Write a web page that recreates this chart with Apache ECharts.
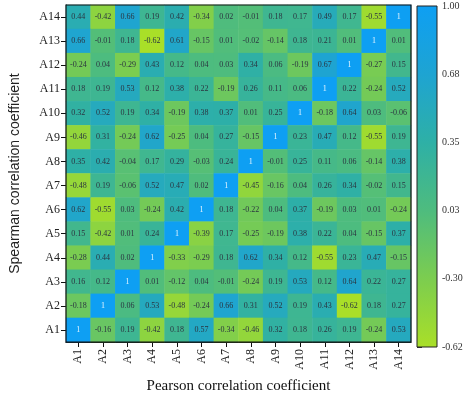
<!DOCTYPE html>
<html>
<head>
<meta charset="utf-8">
<script src="https://cdn.jsdelivr.net/npm/echarts@6/dist/echarts.min.js"></script>
<style>
  html, body { margin: 0; padding: 0; background: #fff; }
  #chart { width: 474px; height: 399px; }
</style>
</head>
<body>
<div id="chart"></div>
<script>
const labels = ["A1", "A2", "A3", "A4", "A5", "A6", "A7", "A8", "A9", "A10", "A11", "A12", "A13", "A14"];

// rows listed top to bottom (A14 ... A1), columns A1 ... A14
const rowsTopDown = [
  [0.44, -0.42, 0.66, 0.19, 0.42, -0.34, 0.02, -0.01, 0.18, 0.17, 0.49, 0.17, -0.55, 1],
  [0.66, -0.01, 0.18, -0.62, 0.61, -0.15, 0.01, -0.02, -0.14, 0.18, 0.21, 0.01, 1, 0.01],
  [-0.24, 0.04, -0.29, 0.43, 0.12, 0.04, 0.03, 0.34, 0.06, -0.19, 0.67, 1, -0.27, 0.15],
  [0.18, 0.19, 0.53, 0.12, 0.38, 0.22, -0.19, 0.26, 0.11, 0.06, 1, 0.22, -0.24, 0.52],
  [0.32, 0.52, 0.19, 0.34, -0.19, 0.38, 0.37, 0.01, 0.25, 1, -0.18, 0.64, 0.03, -0.06],
  [-0.46, 0.31, -0.24, 0.62, -0.25, 0.04, 0.27, -0.15, 1, 0.23, 0.47, 0.12, -0.55, 0.19],
  [0.35, 0.42, -0.04, 0.17, 0.29, -0.03, 0.24, 1, -0.01, 0.25, 0.11, 0.06, -0.14, 0.38],
  [-0.48, 0.19, -0.06, 0.52, 0.47, 0.02, 1, -0.45, -0.16, 0.04, 0.26, 0.34, -0.02, 0.15],
  [0.62, -0.55, 0.03, -0.24, 0.42, 1, 0.18, -0.22, 0.04, 0.37, -0.19, 0.03, 0.01, -0.24],
  [0.15, -0.42, 0.01, 0.24, 1, -0.39, 0.17, -0.25, -0.19, 0.38, 0.22, 0.04, -0.15, 0.37],
  [-0.28, 0.44, 0.02, 1, -0.33, -0.29, 0.18, 0.62, 0.34, 0.12, -0.55, 0.23, 0.47, -0.15],
  [0.16, 0.12, 1, 0.01, -0.12, 0.04, -0.01, -0.24, 0.19, 0.53, 0.12, 0.64, 0.22, 0.27],
  [-0.18, 1, 0.06, 0.53, -0.48, -0.24, 0.66, 0.31, 0.52, 0.19, 0.43, -0.62, 0.18, 0.27],
  [1, -0.16, 0.19, -0.42, 0.18, 0.57, -0.34, -0.46, 0.32, 0.18, 0.26, 0.19, -0.24, 0.53],
];

const colorMin = -0.62;
const colorMax = 1.0;
const colorTicks = [-0.62, -0.296, 0.028, 0.352, 0.676, 1.0];
const palette = ["#a9df28", "#7ccd4f", "#4ebc7e", "#2eb0a6", "#1ea4d2", "#0e9ff3"];

const serif = "'Liberation Serif', 'DejaVu Serif', serif";
const sans = "'Liberation Sans', Arial, sans-serif";

const cells = [];
rowsTopDown.forEach((row, r) => {
  const y = labels.length - 1 - r;
  row.forEach((v, x) => {
    const item = { value: [x, y, v] };
    if (v === 1) item.label = { color: "#e8f6ff" };
    cells.push(item);
  });
});

// colour bar gradient, top = max
const barStops = palette.map((c, i) => ({ offset: 1 - i / (palette.length - 1), color: c }));

const chart = echarts.init(document.getElementById("chart"), null, { renderer: "canvas" });

chart.setOption({
  animation: false,
  backgroundColor: "#fff",
  grid: [
    { left: 57, right: 63, top: 5, bottom: 52, show: true, z: 10,
      backgroundColor: "transparent", borderColor: "#111", borderWidth: 1.2 },
    { left: 417, width: 20, top: 6, height: 341, show: true, z: 10,
      backgroundColor: "transparent", borderColor: "#222", borderWidth: 1 },
  ],
  graphic: [
    {
      type: "rect",
      left: 417,
      top: 6,
      z: 1,
      shape: { width: 20, height: 341 },
      style: { fill: new echarts.graphic.LinearGradient(0, 0, 0, 1, barStops) },
    },
  ],
  xAxis: [
    {
      gridIndex: 0,
      type: "category",
      data: labels,
      name: "Pearson correlation coefficient",
      nameLocation: "middle",
      nameGap: 37,
      nameTextStyle: { fontFamily: serif, fontSize: 15, color: "#111" },
      axisLine: { show: true, lineStyle: { color: "#111" } },
      axisTick: { show: true, alignWithLabel: true, length: 5, lineStyle: { color: "#111" } },
      axisLabel: { rotate: 90, fontFamily: serif, fontSize: 12, color: "#222", margin: 7 },
      splitLine: { show: false },
    },
    { gridIndex: 1, type: "value", show: false, min: 0, max: 1 },
  ],
  yAxis: [
    {
      gridIndex: 0,
      type: "category",
      data: labels,
      name: "Spearman correlation coefficient",
      nameLocation: "middle",
      nameGap: 44,
      nameTextStyle: { fontFamily: sans, fontSize: 14, color: "#222" },
      axisLine: { show: true, lineStyle: { color: "#111" } },
      axisTick: { show: true, alignWithLabel: true, length: 5, lineStyle: { color: "#111" } },
      axisLabel: { fontFamily: serif, fontSize: 12, color: "#222", margin: 6 },
      splitLine: { show: false },
    },
    {
      gridIndex: 1,
      type: "value",
      position: "right",
      min: colorMin,
      max: colorMax,
      axisLine: { show: false },
      splitLine: { show: false },
      axisTick: { show: true, length: 5, inside: false, customValues: colorTicks, lineStyle: { color: "#333" } },
      axisLabel: {
        customValues: colorTicks,
        fontFamily: serif,
        fontSize: 10,
        color: "#333",
        margin: 5,
        formatter: (v) => v.toFixed(2),
      },
    },
  ],
  visualMap: {
    type: "continuous",
    show: false,
    min: colorMin,
    max: colorMax,
    seriesIndex: 0,
    inRange: { color: palette },
  },
  series: [
    {
      type: "heatmap",
      xAxisIndex: 0,
      yAxisIndex: 0,
      data: cells,
      label: {
        show: true,
        fontFamily: serif,
        fontSize: 8,
        color: "#2b3440",
        formatter: (p) => (p.value[2] === 1 ? "1" : p.value[2].toFixed(2)),
      },
      itemStyle: { borderWidth: 0 },
      emphasis: { disabled: true },
    },
  ],
});
</script>
</body>
</html>
